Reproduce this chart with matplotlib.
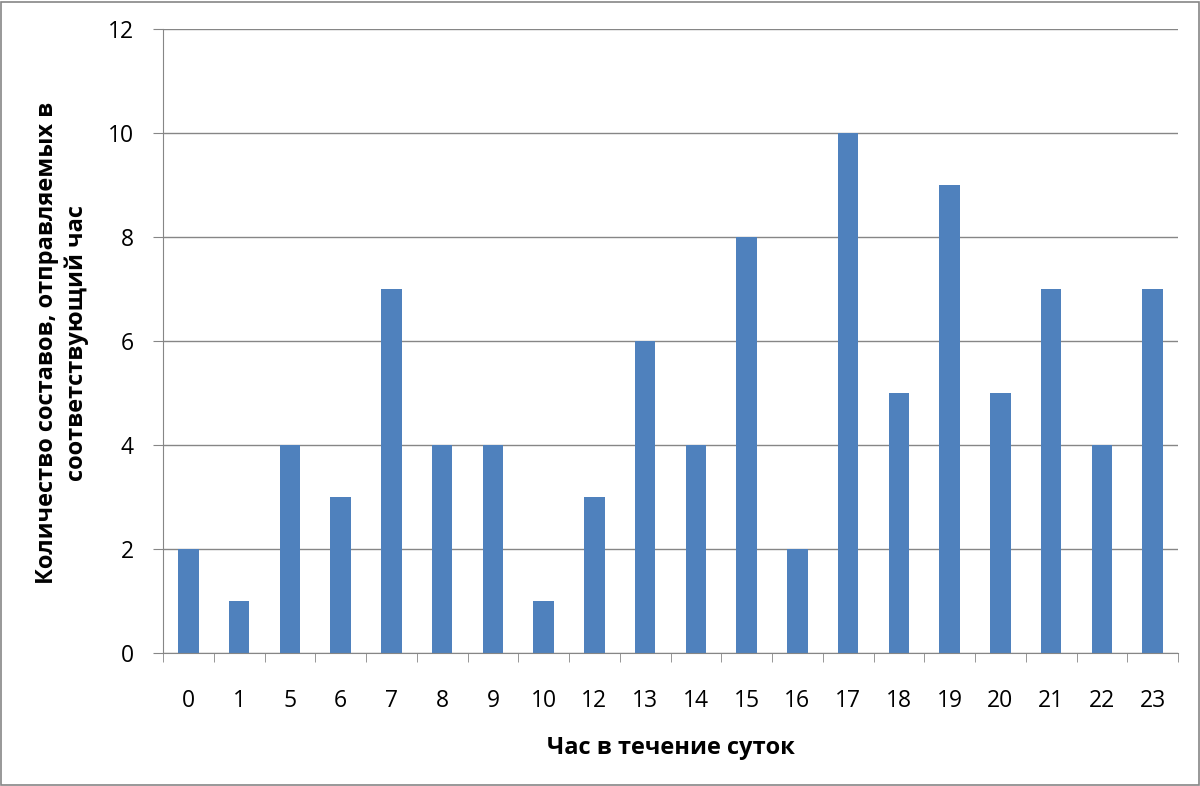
import matplotlib
matplotlib.use("Agg")
import matplotlib.pyplot as plt
from matplotlib.patches import Rectangle
import numpy as np

hours = ["0", "1", "5", "6", "7", "8", "9", "10", "12", "13", "14", "15", "16", "17", "18", "19", "20", "21", "22", "23"]
counts = [2, 1, 4, 3, 7, 4, 4, 1, 3, 6, 4, 8, 2, 10, 5, 9, 5, 7, 4, 7]
yticks = [0, 2, 4, 6, 8, 10, 12]

plt.rcParams['font.family'] = ['Open Sans', 'DejaVu Sans']

fig = plt.figure(figsize=(12, 7.86), dpi=100)
ax = fig.add_axes([163/1200, 1 - 653/786, (1178-163)/1200, (653-29)/786])

x = np.arange(len(hours))
ax.bar(x, counts, width=0.4, color="#4F81BD", zorder=3)

ax.set_xlim(-0.5, len(hours) - 0.5)
ax.set_ylim(0, 12)
ax.set_yticks(yticks)
ax.set_yticklabels([str(v) for v in yticks], fontsize=16.5)
ax.set_xticks(x)
ax.set_xticklabels(hours, fontsize=16.5)
ax.set_xticks(np.arange(-0.5, len(hours)), minor=True)
ax.tick_params(axis='x', which='major', length=0, pad=26)
ax.tick_params(axis='x', which='minor', length=6.5, color="#868686", direction='out')
ax.tick_params(axis='y', which='major', length=7, color="#868686", direction='out', pad=14)

ax.grid(axis='y', color="#868686", linewidth=1, zorder=0)
ax.set_axisbelow(True)
for s in ['top', 'right']:
    ax.spines[s].set_visible(False)
for s in ['left', 'bottom']:
    ax.spines[s].set_color("#868686")
    ax.spines[s].set_zorder(4)

ax.set_xlabel("Час в течение суток", fontsize=17, fontweight='bold')
ax.xaxis.set_label_coords(0.5, -0.133)
ax.set_ylabel("Количество составов, отправляемых в\nсоответствующий час", fontsize=17,
              fontweight='bold', linespacing=1.3)
ax.yaxis.set_label_coords(-0.0729, 0.497)

fig.patches.append(Rectangle((0.001, 0.001), 0.998, 0.997, transform=fig.transFigure,
                             fill=False, edgecolor="#868686", linewidth=1.2))

fig.savefig("out.png", dpi=100)
